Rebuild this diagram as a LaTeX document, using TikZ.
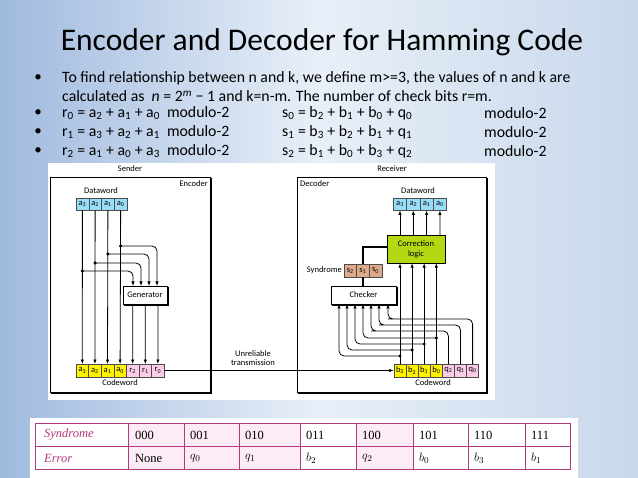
\documentclass[tikz,border=0pt]{standalone}
\usepackage{fontspec}
\setmainfont{Carlito}
\newfontfamily\tabfont{Liberation Serif}
\begin{document}
\begin{tikzpicture}[x=1pt,y=-1pt,
  cell/.style={draw=black!70,line width=0.4pt,minimum width=#1,minimum height=12.5pt,inner sep=0pt,font=\fontsize{8.5}{8.5}\selectfont},
  lab/.style={font=\fontsize{8.5}{9.5}\selectfont,inner sep=0pt},
  blk/.style={draw,line width=0.5pt,fill=white},
  wire/.style={line width=0.8pt,-{Latex[length=4.5pt,width=3.5pt]}},
  dot/.style={circle,fill,inner sep=0pt,minimum size=3.4pt},
  btxt/.style={anchor=west,inner sep=0pt,font=\fontsize{15.8}{17}\selectfont},
  tcell/.style={font=\tabfont\fontsize{12.5}{13}\selectfont,anchor=west,inner sep=0pt}]
\usetikzlibrary{arrows.meta}
\shade[left color={rgb,255:red,160;green,186;blue,222},right color={rgb,255:red,200;green,216;blue,236},middle color={rgb,255:red,232;green,239;blue,248}] (0,0) rectangle (638,478);
\useasboundingbox (0,0) rectangle (638,478);
% title
\node[font=\fontsize{31.5}{32}\selectfont] (title) at (322,42) {Encoder and Decoder for Hamming Code};
% bullets
\foreach \yy/\nm in {78/b1,113/b2,132/b3,151/b4}{\node[font=\fontsize{15}{15}\selectfont] (\nm) at (38,\yy) {•};}
\node[btxt] (t1) at (62,78) {To find relationship between n and k, we define m>=3, the values of n and k are};
\node[btxt] (t1b) at (62,96) {calculated as \ \textit{n} = 2\textsuperscript{\textit{m}} − 1 and k=n-m. The number of check bits r=m.};
\node[btxt] (t2) at (62,113) {r\textsubscript{0} = a\textsubscript{2} + a\textsubscript{1} + a\textsubscript{0} \ modulo-2};
\node[btxt] (t3) at (62,132) {r\textsubscript{1} = a\textsubscript{3} + a\textsubscript{2} + a\textsubscript{1} \ modulo-2};
\node[btxt] (t4) at (62,151) {r\textsubscript{2} = a\textsubscript{1} + a\textsubscript{0} + a\textsubscript{3} \ modulo-2};
\node[btxt] (s2) at (282,113) {s\textsubscript{0} = b\textsubscript{2} + b\textsubscript{1} + b\textsubscript{0} + q\textsubscript{0}};
\node[btxt] (s3) at (282,132) {s\textsubscript{1} = b\textsubscript{3} + b\textsubscript{2} + b\textsubscript{1} + q\textsubscript{1}};
\node[btxt] (s4) at (282,151) {s\textsubscript{2} = b\textsubscript{1} + b\textsubscript{0} + b\textsubscript{3} + q\textsubscript{2}};
\foreach \yy/\nm in {113/m2,132/m3,151/m4}{\node[btxt] (\nm) at (484,\yy) {modulo-2};}
% figure panel
\fill[white] (48,163) rectangle (495,400);
\node[lab] (sender) at (130,169) {Sender};
\node[lab] (receiver) at (392,169) {Receiver};
\draw[line width=0.4pt] (50,177) rectangle (210,392);
\draw[line width=1.4pt] (211,178) -- (211,393) -- (51,393);
\node[lab,anchor=north east] (enc) at (208,180) {Encoder};
\draw[line width=0.4pt] (297,177) rectangle (486,392);
\draw[line width=1.4pt] (487,178) -- (487,393) -- (298,393);
\node[lab,anchor=north west] (dec) at (300,180) {Decoder};
% sender dataword
\node[lab] (dwl) at (101,191) {Dataword};
\foreach \i/\s in {0/3,1/2,2/1,3/0}{\node[cell=12.75pt,fill=cyan!40] (sa\s) at (82.4+12.75*\i,204) {a\textsubscript{\s}};}
% sender codeword
\foreach \i/\t in {0/a\textsubscript{3},1/a\textsubscript{2},2/a\textsubscript{1},3/a\textsubscript{0}}{\node[cell=12.6pt,fill=yellow] (sc\i) at (82.3+12.6*\i,370.5) {\t};}
\foreach \i/\t in {4/r\textsubscript{2},5/r\textsubscript{1},6/r\textsubscript{0}}{\node[cell=12.6pt,fill=magenta!20] (sc\i) at (82.3+12.6*\i,370.5) {\t};}
\node[lab] (cwl) at (120,383) {Codeword};
\node[blk,minimum width=44pt,minimum height=18pt,inner sep=0pt,font=\fontsize{8.5}{9}\selectfont] (gen) at (145,295) {Generator};
\draw[line width=1.2pt] (gen.north east)++(1,1) |- ([shift={(1,1)}]gen.south west);
\foreach \s/\c in {3/0,2/1,1/2,0/3}{\draw[wire] (sa\s.south) -- (sc\c.north);}
\foreach \s/\yy/\xx in {0/246/157,1/254/149,2/263/141,3/271/133}{
  \coordinate (tp\s) at (sa\s.south |- 0,\yy);
  \node[dot] (d\s) at (tp\s) {};
  \draw[wire,rounded corners=5pt] (tp\s) -| (\xx,286);}
\foreach \c/\xx in {4/132.7,5/145.3,6/157.9}{\draw[wire] (\xx,304) -- (sc\c.north);}
% transmission
\node[lab,align=center] (ut) at (253,358) {Unreliable\\transmission};
% receiver codeword
\foreach \i/\t in {0/b\textsubscript{3},1/b\textsubscript{2},2/b\textsubscript{1},3/b\textsubscript{0}}{\node[cell=12.1pt,fill=yellow] (rc\i) at (400+12.1*\i,370.5) {\t};}
\foreach \i/\t in {4/q\textsubscript{2},5/q\textsubscript{1},6/q\textsubscript{0}}{\node[cell=12.1pt,fill=magenta!20] (rc\i) at (400+12.1*\i,370.5) {\t};}
\node[lab] (rcwl) at (433,383) {Codeword};
\draw[wire] (sc6.east) -- (rc0.west);
% receiver dataword
\node[lab] (rdwl) at (418,191) {Dataword};
\foreach \i/\s in {0/3,1/2,2/1,3/0}{\node[cell=13.3pt,fill=cyan!40] (ra\s) at (400+13.3*\i,204) {a\textsubscript{\s}};}
\node[draw,line width=0.5pt,fill={rgb,255:red,180;green,216;blue,20},minimum width=58pt,minimum height=28pt,align=center,inner sep=0pt,font=\fontsize{8.5}{10}\selectfont] (corr) at (416,249) {Correction\\logic};
\foreach \s/\xx in {3/400,2/413.3,1/426.6,0/439.9}{\draw[wire] (\xx,235) -- (ra\s.south);}
% syndrome
\foreach \i/\s in {0/2,1/1,2/0}{\node[cell=12.6pt,fill={rgb,255:red,222;green,170;blue,140}] (sy\s) at (350.3+12.6*\i,270.5) {s\textsubscript{\s}};}
\node[lab,anchor=east] (syl) at (342,270.5) {Syndrome};
\node[blk,minimum width=65pt,minimum height=18pt,inner sep=0pt,font=\fontsize{8.5}{9}\selectfont] (chk) at (363.5,295) {Checker};
\draw[line width=1.2pt] (chk.north east)++(1,1) |- ([shift={(1,1)}]chk.south west);
\draw[line width=1.6pt] (corr.west |- 0,247) -| (sy1.north);
\draw[line width=1.6pt] (sy1.south) -- (chk.north -| sy1.south);
% receiver wires
\foreach \c/\yy/\xx in {0/356/339,1/350/347,2/344/355,3/338/363}{
  \draw[wire] (rc\c.north) -- (rc\c.north |- corr.south);
  \coordinate (rt\c) at (rc\c.north |- 0,\yy);
  \node[dot] (rd\c) at (rt\c) {};
  \draw[wire,rounded corners=5pt] (rt\c) -| (\xx,304);}
\foreach \c/\yy/\xx in {4/331/371,5/325/379,6/319/388}{
  \draw[wire,rounded corners=5pt] (rc\c.north) |- (\xx+5,\yy) -| (\xx,304);}
% table
\fill[white] (30,418) rectangle (578,478);
\foreach \xa/\xb in {128/184,184/239,239/300,356/413}{\fill[magenta!8] (\xa,423) rectangle (\xb,469);}
\draw[magenta!70!black,line width=0.6pt] (35,423) rectangle (570,469);
\draw[magenta!70!black,line width=0.6pt] (35,446) -- (570,446);
\foreach \xx in {128,184,239,300,356,413,468,525}{\draw[magenta!70!black,line width=0.6pt] (\xx,423) -- (\xx,469);}
\node[tcell,text=magenta!70!black,font=\tabfont\itshape\fontsize{12.5}{13}\selectfont] (hs) at (44,435) {Syndrome};
\node[tcell,text=magenta!70!black,font=\tabfont\itshape\fontsize{12.5}{13}\selectfont] (he) at (44,458) {Error};
\foreach \xx/\t [count=\k] in {135/000,190/001,245/010,306/011,362/100,419/101,474/110,531/111}{\node[tcell] (sv\k) at (\xx,435) {\t};}
\foreach \xx/\t [count=\k] in {135/None,190/$q_0$,245/$q_1$,306/$b_2$,362/$q_2$,419/$b_0$,474/$b_3$,531/$b_1$}{\node[tcell] (ev\k) at (\xx,458) {\t};}
\end{tikzpicture}
\end{document}
